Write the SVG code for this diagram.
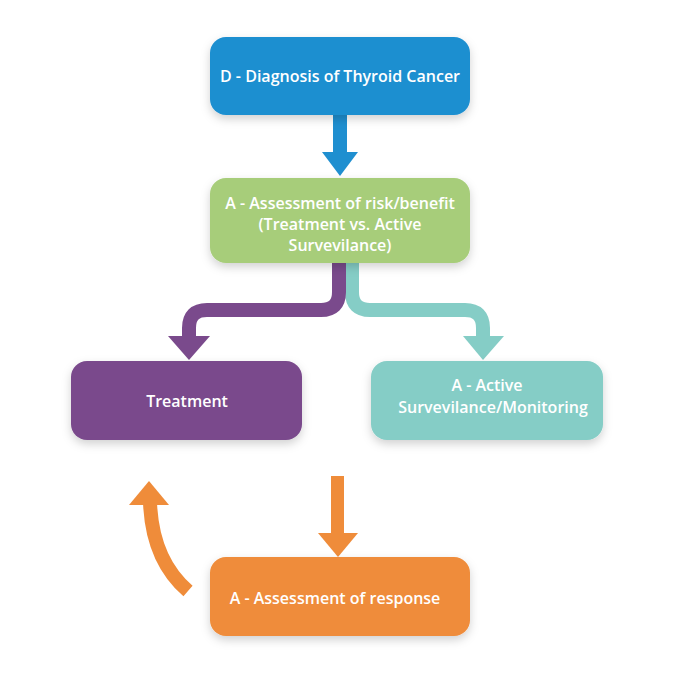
<svg xmlns="http://www.w3.org/2000/svg" width="685" height="685" viewBox="0 0 685 685">
<defs>
<filter id="sh" x="-20%" y="-20%" width="140%" height="160%"><feDropShadow dx="0" dy="4" stdDeviation="5" flood-color="#000" flood-opacity="0.18"/></filter>
<style>
text{font-family:"Open Sans","Liberation Sans",sans-serif;font-weight:600;fill:#fff;text-anchor:middle;font-size:16px}
.c{fill:none;stroke-width:14}
</style>
</defs>
<rect width="685" height="685" fill="#fff"/>
<g id="connectors">
<rect x="333" y="115" width="14" height="40" fill="#1f8fd0"/>
<polygon points="322,152 358,152 340,176" fill="#1f8fd0"/>
<path class="c" d="M352,263 V292 Q352,310 370,310 H465 Q483,310 483,328 V340" stroke="#85cdc6"/>
<polygon points="463,336 504,336 483,360" fill="#85cdc6"/>
<path class="c" d="M339,263 V292 Q339,310 321,310 H207 Q189,310 189,328 V340" stroke="#7a4a8c"/>
<polygon points="168,336 210,336 189,360" fill="#7a4a8c"/>
<rect x="331" y="476" width="13" height="60" fill="#ef8c3a"/>
<polygon points="318,533 358,533 338,557" fill="#ef8c3a"/>
<path class="c" d="M188,591 Q152,560 150,502" stroke="#ef8c3a"/>
<polygon points="129,505 169,505 149,481" fill="#ef8c3a"/>
</g>
<g id="n1"><rect x="210" y="37" width="260" height="78" rx="16" fill="#1f8fd0" filter="url(#sh)"/><text x="340" y="82">D - Diagnosis of Thyroid Cancer</text></g>
<g id="n2"><rect x="210" y="178" width="260" height="85" rx="16" fill="#a7cd7a" filter="url(#sh)"/><text x="340" y="209">A - Assessment of risk/benefit</text><text x="340" y="230">(Treatment vs. Active</text><text x="340" y="251">Survevilance)</text></g>
<g id="n3"><rect x="71" y="361" width="231" height="79" rx="16" fill="#7a4a8c" filter="url(#sh)"/><text x="187" y="407">Treatment</text></g>
<g id="n4"><rect x="371" y="361" width="232" height="79" rx="16" fill="#85cdc6" filter="url(#sh)"/><text x="487" y="391">A - Active</text><text x="493" y="413">Survevilance/Monitoring</text></g>
<g id="n5"><rect x="210" y="557" width="260" height="79" rx="16" fill="#ef8c3a" filter="url(#sh)"/><text x="335" y="604">A - Assessment of response</text></g>
</svg>
